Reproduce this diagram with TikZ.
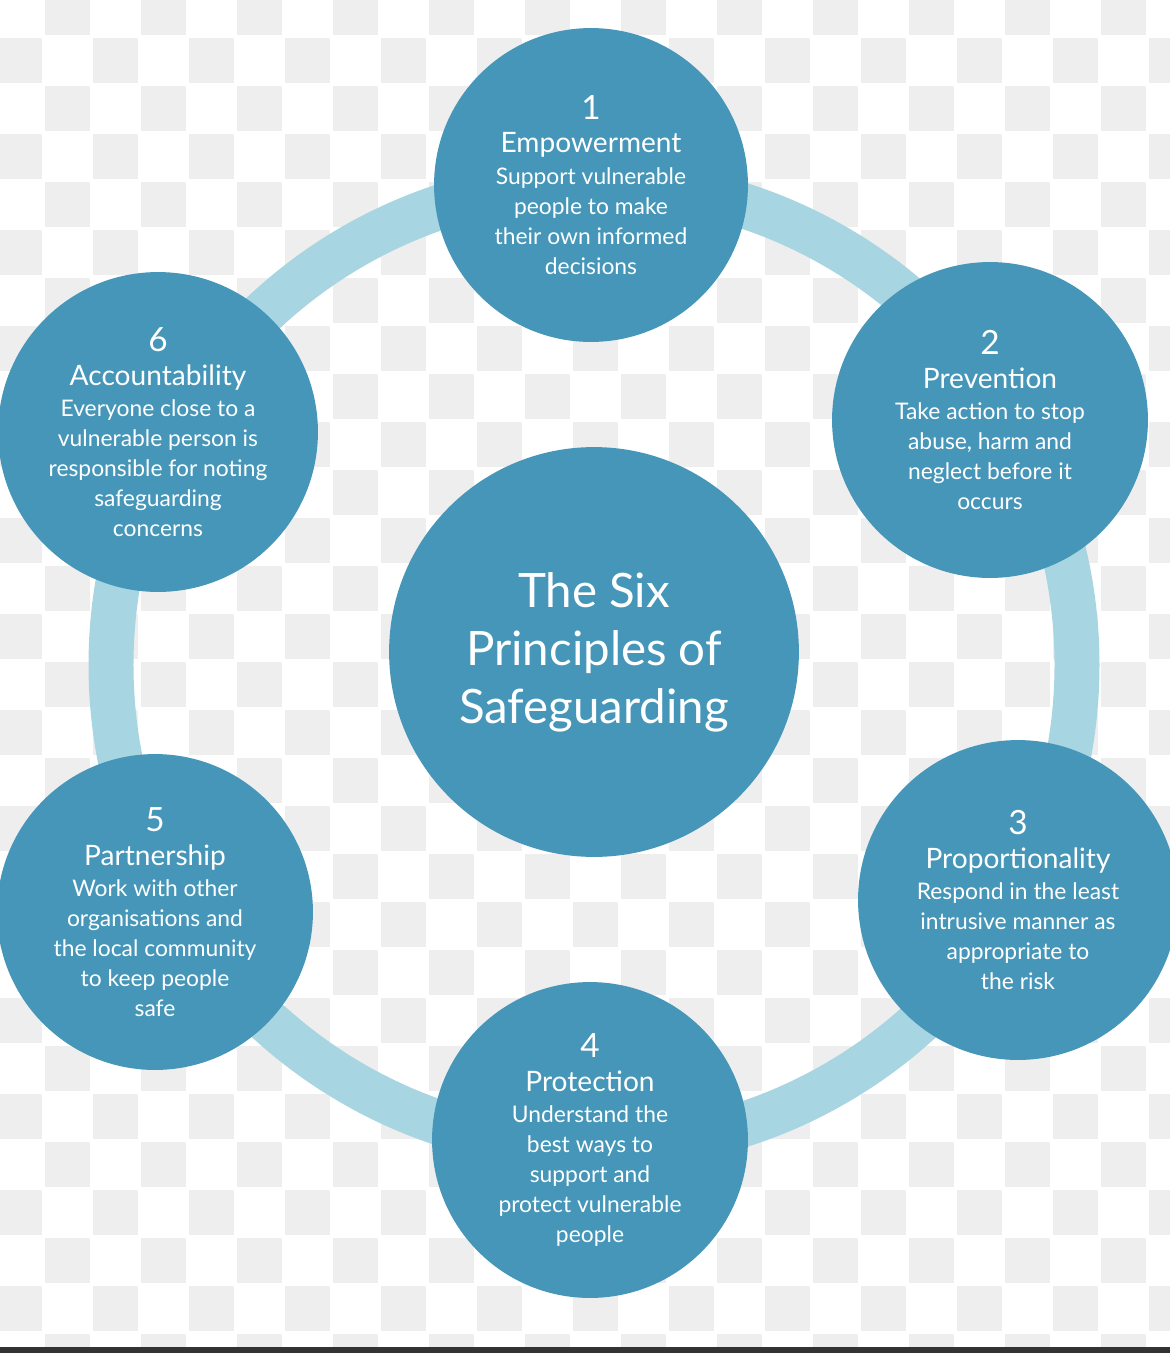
\documentclass[tikz,border=0pt]{standalone}
\usepackage{fontspec}
\setmainfont{Lato}
\definecolor{principle}{HTML}{4596B8}
\definecolor{ringblue}{HTML}{A8D5E2}
\definecolor{checkgray}{HTML}{EEEEEE}
\tikzset{
    principle/.style={circle, fill=principle, text=white, inner sep=0pt,
        minimum size=#1*0.04cm, align=center, font=\fontsize{13}{17}\selectfont},
    principle/.default=158,
}
\newcommand{\principletext}[3]{{\fontsize{19}{22}\selectfont #1}\\[2pt]
    {\fontsize{16}{20}\selectfont #2}\\[1pt] #3}
\begin{document}
\begin{tikzpicture}[x=0.02cm, y=-0.02cm]
    \useasboundingbox (0, 0) rectangle (1170, 1353);
        \fill[white] (0, 0) rectangle (1170, 1353);
        % checker background
        \foreach \i in {0,...,24} {
            \foreach \j in {0,...,28} {
                \pgfmathparse{int(mod(\i+\j,2))}
                \ifnum\pgfmathresult=1
                    \fill[checkgray] (48*\i-3, 48*\j-10) rectangle (48*\i+42, 48*\j+35);
                \fi
            }
        }
        \fill[black!80] (0, 1347) rectangle (1170, 1353);

        \draw[ringblue, line width=0.9cm] (594, 665) circle (483);

        \node[principle=205, font=\fontsize{27}{33}\selectfont] (centre) at (594, 652)
            {The Six\\Principles of\\Safeguarding};

        \node[principle=157] (empowerment) at (591, 185)
            {\principletext{1}{Empowerment}{Support vulnerable\\people to make\\their own informed\\decisions}};
        \node[principle=158] (prevention) at (990, 420)
            {\principletext{2}{Prevention}{Take action to stop\\abuse, harm and\\neglect before it\\occurs}};
        \node[principle=160] (proportionality) at (1018, 900)
            {\principletext{3}{Proportionality}{Respond in the least\\intrusive manner as\\appropriate to\\the risk}};
        \node[principle=158] (protection) at (590, 1140)
            {\principletext{4}{Protection}{Understand the\\best ways to\\support and\\protect vulnerable\\people}};
        \node[principle=158] (partnership) at (155, 912)
            {\principletext{5}{Partnership}{Work with other\\organisations and\\the local community\\to keep people\\safe}};
        \node[principle=160] (accountability) at (158, 432)
            {\principletext{6}{Accountability}{Everyone close to a\\vulnerable person is\\responsible for noting\\safeguarding\\concerns}};
    \end{tikzpicture}
\end{document}
